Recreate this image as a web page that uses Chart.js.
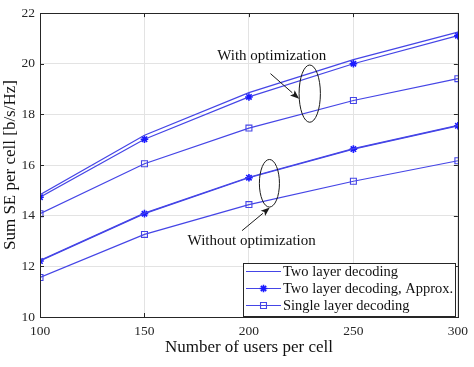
<!DOCTYPE html>
<html><head><meta charset="utf-8">
<script src="https://cdn.jsdelivr.net/npm/chart.js@4/dist/chart.umd.min.js"></script>
<style>html,body{margin:0;padding:0;background:#fff}#wrap{width:474px;height:367px}</style>
</head><body><div id="wrap"><canvas id="c" width="474" height="367"></canvas></div>
<script>
const users = [100, 150, 200, 250, 300];
const twoLayerOpt = [14.83, 17.18, 18.86, 20.16, 21.25];
const twoLayerApproxOpt = [14.73, 17.02, 18.69, 20.0, 21.11];
const singleOpt = [14.08, 16.05, 17.46, 18.55, 19.41];
const twoLayerNoOpt = [12.23, 14.1, 15.52, 16.65, 17.57];
const twoLayerApproxNoOpt = [12.21, 14.08, 15.5, 16.63, 17.55];
const singleNoOpt = [11.56, 13.26, 14.44, 15.36, 16.17];
const xTicks = [100, 150, 200, 250, 300];
const yTicks = [10, 12, 14, 16, 18, 20, 22];
const legendLabels = ['Two layer decoding', 'Two layer decoding, Approx.', 'Single layer decoding'];

const LINE = '#4545e6';
const MARK = '#1a1aff';
const SERIF = '"Liberation Serif", "DejaVu Serif", serif';

function pts(arr){ return users.map((u,i)=>({x:u,y:arr[i]})); }
function ds(label, arr, kind){
  const base = {label, data: pts(arr), borderColor: LINE, borderWidth: 1.2, fill:false, tension:0, markerKind: kind};
  if (kind==='none') return Object.assign(base,{pointRadius:0, pointHoverRadius:0, pointStyle:false});
  if (kind==='star') return Object.assign(base,{pointStyle:'star', pointRadius:3.8, pointBorderColor:MARK, pointBackgroundColor:MARK, pointBorderWidth:1.6});
  return Object.assign(base,{pointStyle:'rect', pointRadius:4.2, pointBorderColor:LINE, pointBackgroundColor:'rgba(0,0,0,0)', pointBorderWidth:1.1});
}

const annotations = {
  texts: [
    {text:'With optimization', x:210.9, y:20.31},
    {text:'Without optimization', x:201.3, y:13.0}
  ],
  ellipses: [
    {x:229.1, y:18.82, rx:5.1, ry:1.13},
    {x:209.8, y:15.28, rx:4.8, ry:0.94}
  ],
  arrows: [
    {x1:210.3, y1:19.61, x2:224.0, y2:18.62},
    {x1:196.7, y1:13.41, x2:210.0, y2:14.32}
  ]
};

const framePlugin = {
  id:'frame',
  afterDatasetsDraw(chart){
    const {ctx, chartArea:a, scales:{x,y}} = chart;
    ctx.save();
    ctx.strokeStyle='#1a1a1a'; ctx.fillStyle='#1a1a1a'; ctx.lineWidth=1;
    annotations.ellipses.forEach(e=>{
      const cx=x.getPixelForValue(e.x), cy=y.getPixelForValue(e.y);
      const rx=Math.abs(x.getPixelForValue(e.x+e.rx)-cx), ry=Math.abs(y.getPixelForValue(e.y+e.ry)-cy);
      ctx.beginPath(); ctx.ellipse(cx,cy,rx,ry,0,0,Math.PI*2); ctx.stroke();
    });
    annotations.arrows.forEach(r=>{
      const x1=x.getPixelForValue(r.x1), y1=y.getPixelForValue(r.y1);
      const x2=x.getPixelForValue(r.x2), y2=y.getPixelForValue(r.y2);
      const ang=Math.atan2(y2-y1,x2-x1), L=9, W=3.5;
      const bx=x2-L*Math.cos(ang), by=y2-L*Math.sin(ang);
      ctx.beginPath(); ctx.moveTo(x1,y1); ctx.lineTo(bx,by); ctx.stroke();
      ctx.beginPath(); ctx.moveTo(x2,y2);
      ctx.lineTo(bx+W*Math.sin(ang), by-W*Math.cos(ang));
      ctx.lineTo(bx+2*Math.cos(ang), by+2*Math.sin(ang));
      ctx.lineTo(bx-W*Math.sin(ang), by+W*Math.cos(ang));
      ctx.closePath(); ctx.fill();
    });
    ctx.font='15px '+SERIF; ctx.textAlign='center'; ctx.textBaseline='middle'; ctx.fillStyle='#111';
    annotations.texts.forEach(t=>{
      ctx.fillText(t.text, x.getPixelForValue(t.x), y.getPixelForValue(t.y));
    });
    ctx.strokeStyle='#262626'; ctx.lineWidth=1;
    ctx.strokeRect(Math.round(a.left)+0.5, Math.round(a.top)+0.5, Math.round(a.right-a.left), Math.round(a.bottom-a.top));
    const T=4;
    ctx.beginPath();
    xTicks.forEach(v=>{ const p=Math.round(x.getPixelForValue(v))+0.5;
      ctx.moveTo(p,a.bottom); ctx.lineTo(p,a.bottom-T); ctx.moveTo(p,a.top); ctx.lineTo(p,a.top+T); });
    yTicks.forEach(v=>{ const p=Math.round(y.getPixelForValue(v))+0.5;
      ctx.moveTo(a.left,p); ctx.lineTo(a.left+T,p); ctx.moveTo(a.right,p); ctx.lineTo(a.right-T,p); });
    ctx.stroke();
    // legend
    const lx=243.5, ly=263.5, lw=212, lh=53;
    ctx.fillStyle='#fff'; ctx.fillRect(lx,ly,lw,lh);
    ctx.strokeStyle='#262626'; ctx.lineWidth=1; ctx.strokeRect(lx,ly,lw,lh);
    const rows=[271.5, 288.5, 305.5];
    const kinds=['none','star','rect'];
    kinds.forEach((kind,i)=>{
      const yy=rows[i], mx=263.5;
      ctx.strokeStyle=LINE; ctx.lineWidth=1.2;
      ctx.beginPath(); ctx.moveTo(246,yy); ctx.lineTo(281,yy); ctx.stroke();
      if (kind==='rect'){
        const s=Math.SQRT1_2*4.2;
        ctx.lineWidth=1.1; ctx.strokeStyle=LINE;
        ctx.beginPath(); ctx.rect(mx-s,yy-s,2*s,2*s); ctx.stroke();
      } else if (kind==='star'){
        const r=3.8, q=r*Math.SQRT1_2;
        ctx.lineWidth=1.6; ctx.strokeStyle=MARK;
        ctx.beginPath();
        ctx.moveTo(mx-r,yy); ctx.lineTo(mx+r,yy); ctx.moveTo(mx,yy-r); ctx.lineTo(mx,yy+r);
        ctx.moveTo(mx-q,yy-q); ctx.lineTo(mx+q,yy+q); ctx.moveTo(mx-q,yy+q); ctx.lineTo(mx+q,yy-q);
        ctx.stroke();
      }
      ctx.fillStyle='#111'; ctx.font='14.5px '+SERIF; ctx.textAlign='left'; ctx.textBaseline='middle';
      ctx.fillText(legendLabels[i], 283, yy+0.5);
    });
    ctx.restore();
  }
};

new Chart(document.getElementById('c'), {
  type:'line',
  data:{ datasets:[
    ds(legendLabels[0], twoLayerOpt, 'none'),
    ds(legendLabels[1], twoLayerApproxOpt, 'star'),
    ds(legendLabels[2], singleOpt, 'rect'),
    ds(legendLabels[0], twoLayerNoOpt, 'none'),
    ds(legendLabels[1], twoLayerApproxNoOpt, 'star'),
    ds(legendLabels[2], singleNoOpt, 'rect')
  ]},
  options:{
    responsive:false, animation:false, devicePixelRatio:1,
    layout:{padding:{top:10,right:12,left:0,bottom:0}},
    plugins:{legend:{display:false}, tooltip:{enabled:false}},
    scales:{
      x:{type:'linear', min:100, max:300,
        afterBuildTicks(s){ s.ticks = xTicks.map(v=>({value:v})); },
        afterFit(s){ s.height=50; },
        grid:{color:'#e3e3e3', drawTicks:false, lineWidth:1},
        border:{display:false},
        ticks:{padding:6, color:'#262626', font:{family:SERIF, size:13.5}, maxRotation:0},
        title:{display:true, text:'Number of users per cell', color:'#111', font:{family:SERIF, size:17}, padding:{top:0, bottom:9}}
      },
      y:{type:'linear', min:10, max:22,
        afterBuildTicks(s){ s.ticks = yTicks.map(v=>({value:v})); },
        afterFit(s){ s.width=40; },
        grid:{color:'#e3e3e3', drawTicks:false, lineWidth:1},
        border:{display:false},
        ticks:{padding:5, color:'#262626', font:{family:SERIF, size:13.5}},
        title:{display:true, text:'Sum SE per cell [b/s/Hz]', color:'#111', font:{family:SERIF, size:17}, padding:{bottom:0, top:0}}
      }
    }
  },
  plugins:[framePlugin]
});
</script></body></html>
